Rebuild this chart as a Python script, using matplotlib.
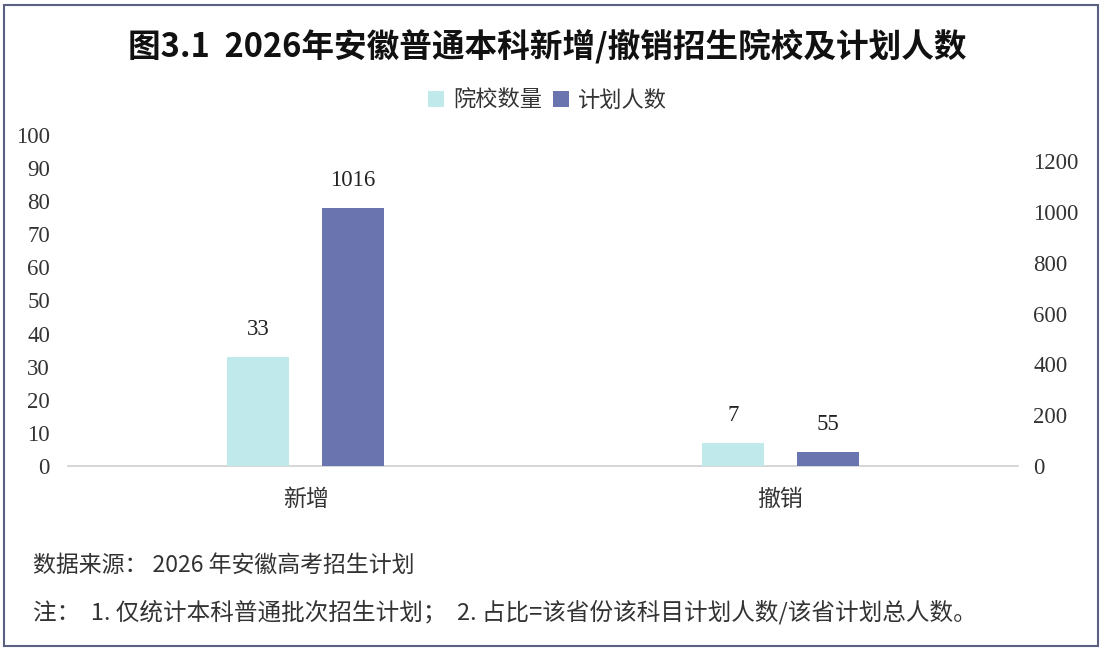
import matplotlib.pyplot as plt
import numpy as np
from matplotlib.patches import Rectangle

cjk = ['Noto Sans CJK SC', 'DejaVu Sans']
serif = ['Liberation Serif', 'Noto Sans CJK SC']
plt.rcParams['font.family'] = cjk

# data
categories = ['新增', '撤销']
schools = [33, 7]
plans = [1016, 55]
series_names = ['院校数量', '计划人数']
colors = ['#BFE9EB', '#6A74AE']

title = '图3.1  2026年安徽普通本科新增/撤销招生院校及计划人数'
note1 = '数据来源： 2026 年安徽高考招生计划'
note2 = '注：  1. 仅统计本科普通批次招生计划；  2. 占比=该省份该科目计划人数/该省计划总人数。'

fig = plt.figure(figsize=(11.06, 6.54), dpi=100)
ax = fig.add_axes([0.0615, 0.2875, 0.859, 0.5061])
ax2 = ax.twinx()

x = np.arange(len(categories))
w = 0.13
b1 = ax.bar(x - 0.1, schools, width=w, color=colors[0], label=series_names[0], zorder=3)
b2 = ax2.bar(x + 0.1, plans, width=w, color=colors[1], label=series_names[1], zorder=3)

ax.set_xlim(-0.5, 1.5)
ax.set_ylim(0, 100)
ax.set_yticks(range(0, 101, 10))
ax2.set_ylim(0, 1303)
ax2.set_yticks(range(0, 1201, 200))

ax.set_xticks(x)
ax.set_xticklabels(categories, fontsize=15, color='#333333')

for a in (ax, ax2):
    for s in a.spines.values():
        s.set_visible(False)
    a.tick_params(length=0, labelsize=16.5, colors='#333333')
    for lab in a.get_yticklabels():
        lab.set_family(serif)
ax.spines['bottom'].set_visible(True)
ax.spines['bottom'].set_color('#d0d0d0')
ax.spines['bottom'].set_linewidth(1.2)
ax.tick_params(axis='x', pad=16)
ax.tick_params(axis='y', pad=13)
ax2.tick_params(axis='y', pad=11)

# value labels
for rect, v in zip(b1, schools):
    ax.annotate(str(v), (rect.get_x() + rect.get_width() / 2, v), xytext=(0, 12),
                textcoords='offset points', ha='center', va='bottom',
                fontsize=16.5, family=serif, color='#222222')
for rect, v in zip(b2, plans):
    ax2.annotate(str(v), (rect.get_x() + rect.get_width() / 2, v), xytext=(0, 12),
                 textcoords='offset points', ha='center', va='bottom',
                 fontsize=16.5, family=serif, color='#222222')

# legend
handles = [b1, b2]
fig.legend(handles, series_names, loc='center', bbox_to_anchor=(0.495, 0.847),
           ncol=2, frameon=False, fontsize=16, handlelength=0.7, handleheight=0.7,
           handletextpad=0.4, columnspacing=0.5, labelcolor='#333333')

fig.text(0.495, 0.929, title, ha='center', va='center', fontsize=23.5,
         fontweight='bold', color='#111111')
fig.text(0.03, 0.136, note1, ha='left', va='center', fontsize=16.5,
         style='italic', color='#333333')
fig.text(0.03, 0.064, note2, ha='left', va='center', fontsize=17,
         style='italic', color='#333333')

# outer frame
fig.patches.append(Rectangle((0.004, 0.012), 0.989, 0.98, transform=fig.transFigure,
                             fill=False, edgecolor='#5c6080', linewidth=1.5))

fig.savefig('out.png', dpi=100)
